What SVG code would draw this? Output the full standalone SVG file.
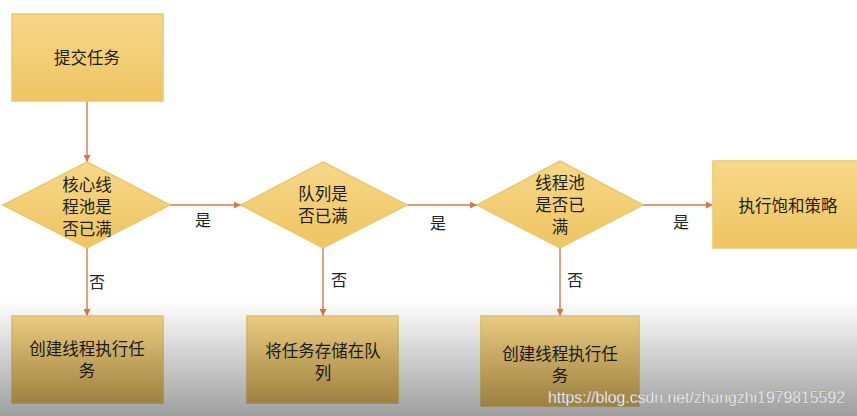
<svg xmlns="http://www.w3.org/2000/svg" width="857" height="416" viewBox="0 0 857 416">
<defs>
<linearGradient id="fillG" x1="0" y1="0" x2="0" y2="1">
<stop offset="0" stop-color="#F6D888"/>
<stop offset="1" stop-color="#EFC462"/>
</linearGradient>
<linearGradient id="shade" x1="0" y1="0" x2="0" y2="1">
<stop offset="0" stop-color="#000" stop-opacity="0"/>
<stop offset="1" stop-color="#000" stop-opacity="0.38"/>
</linearGradient>
<marker id="arr" viewBox="0 0 10 10" refX="10" refY="5" markerWidth="7" markerHeight="7" orient="auto" markerUnits="userSpaceOnUse">
<path d="M0,0 L10,5 L0,10 z" fill="#D8784A"/>
</marker>
</defs>
<style>
.n{fill:url(#fillG);stroke:#EBC86E;stroke-width:1.5}
.t{font-family:"Noto Sans CJK SC","Noto Sans",sans-serif;font-size:16.5px;fill:#1e1e1e;text-anchor:middle;dominant-baseline:central}
.c{stroke:#D8784A;stroke-width:1.4;fill:none;marker-end:url(#arr)}
.l{font-family:"Noto Sans CJK SC","Noto Sans",sans-serif;font-size:16px;fill:#222;text-anchor:middle;dominant-baseline:central}
</style>
<rect x="0" y="0" width="857" height="416" fill="#fff"/>
<g id="connectors">
<line class="c" x1="87" y1="101" x2="87" y2="162"/>
<line class="c" x1="170" y1="205" x2="241" y2="205"/>
<line class="c" x1="407" y1="205" x2="477" y2="205"/>
<line class="c" x1="643" y1="205" x2="713" y2="205"/>
<line class="c" x1="87" y1="248" x2="87" y2="316"/>
<line class="c" x1="323" y1="248" x2="323" y2="316"/>
<line class="c" x1="560" y1="248" x2="560" y2="316"/>
<text class="l" x="203" y="219">是</text>
<text class="l" x="438" y="222">是</text>
<text class="l" x="681" y="221">是</text>
<text class="l" x="97" y="281">否</text>
<text class="l" x="339" y="279">否</text>
<text class="l" x="575" y="279">否</text>
</g>
<g id="submit">
<rect class="n" x="12" y="14" width="151" height="87"/>
<text class="t" x="87" y="57">提交任务</text>
</g>
<g id="coreFull">
<polygon class="n" points="87,162 170,205 87,248 3,205"/>
<text class="t" x="87" y="184">核心线</text>
<text class="t" x="87" y="206">程池是</text>
<text class="t" x="87" y="228">否已满</text>
</g>
<g id="queueFull">
<polygon class="n" points="323,162 407,205 323,248 241,205"/>
<text class="t" x="323" y="193">队列是</text>
<text class="t" x="323" y="215">否已满</text>
</g>
<g id="poolFull">
<polygon class="n" points="560,161 643,205 560,248 477,205"/>
<text class="t" x="560" y="182">线程池</text>
<text class="t" x="560" y="204">是否已</text>
<text class="t" x="560" y="226">满</text>
</g>
<g id="reject">
<rect class="n" x="713" y="161" width="150" height="87"/>
<text class="t" x="788" y="205">执行饱和策略</text>
</g>
<g id="createCore">
<rect class="n" x="12" y="316" width="151" height="87"/>
<text class="t" x="87" y="348">创建线程执行任</text>
<text class="t" x="87" y="370">务</text>
</g>
<g id="enqueue">
<rect class="n" x="247" y="316" width="151" height="87"/>
<text class="t" x="323" y="350">将任务存储在队</text>
<text class="t" x="323" y="372">列</text>
</g>
<g id="createNonCore">
<rect class="n" x="481" y="316" width="158" height="90"/>
<text class="t" x="560" y="353">创建线程执行任</text>
<text class="t" x="560" y="375">务</text>
</g>
<rect x="0" y="300" width="857" height="116" fill="url(#shade)"/>
<text x="548" y="403" font-family="Liberation Sans, Arial, sans-serif" font-size="16" fill="#fff" stroke="#888" stroke-width="0.3" textLength="297" lengthAdjust="spacingAndGlyphs">https://blog.csdn.net/zhangzhi1979815592</text>
</svg>
